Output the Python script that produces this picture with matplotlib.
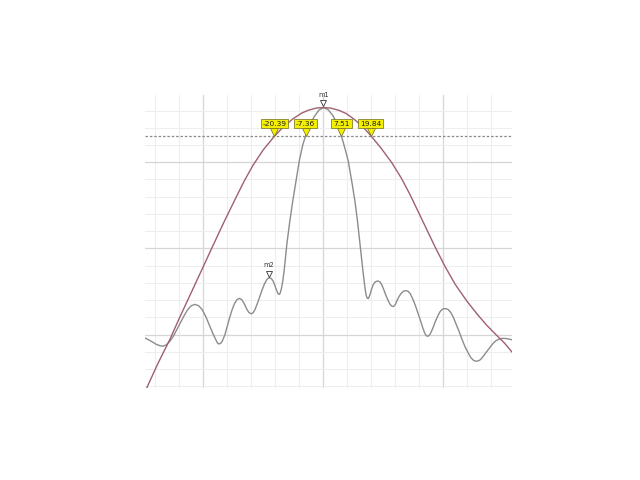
import matplotlib
matplotlib.use('Agg')
import matplotlib.pyplot as plt
import matplotlib.transforms as mtransforms
from matplotlib.ticker import MultipleLocator

# Diagrama de radiacion: haz ancho (rojo) y haz estrecho (gris), en grados / dB
ancho_x = [-73.6, -69, -64, -60, -55.5, -51, -46.7, -41.5, -36.4, -33, -29.3, -25,
           -20.25, -16.5, -12.6, -9, -6.4, -3, 0, 3, 6.5, 9.5, 12.5, 16, 19.84,
           24, 28.5, 32.5, 36.1, 41, 46.5, 50.7, 55, 59.75, 64, 68, 72.25, 75.5, 78.5]
ancho_y = [-36.2, -33.4, -30.6, -28.1, -25.4, -22.7, -20.1, -17.0, -14.1, -12.2, -10.35, -8.55,
           -6.94, -5.85, -4.95, -4.3, -3.98, -3.72, -3.65, -3.72, -3.98, -4.35, -4.95, -5.75, -6.94,
           -8.35, -10.05, -11.85, -13.75, -16.6, -19.8, -22.1, -24.2, -26.1, -27.6, -28.9, -30.1, -31.0, -32.0]

estrecho_x = [-74.3, -72.5, -71, -69.5, -68, -66.8, -65.5, -64, -62.5, -61, -59.5, -58, -56.5, -55,
              -53.5, -52, -50.5, -49, -47.5, -46, -45, -44.2, -43.5, -42.7, -42, -41, -40, -39,
              -38, -37, -36, -35, -34, -33, -32, -31, -30, -29.2, -28.5, -27.5, -26.5, -25.5,
              -24.5, -23.5, -22.6, -21.7, -21, -20.2, -19.5, -18.9, -18.5, -18.0, -17.5, -16.9,
              -16.3, -15.2, -14.0, -12.8, -11.5, -10.0, -8.5, -7.36, -5.5, -4, -2, 0, 2, 4, 6,
              7.51, 9, 10.4, 12, 13.2, 14.3, 15.3, 16.4, 17.3, 17.8, 18.3, 18.8, 19.4, 20.0,
              20.8, 21.6, 22.3, 22.9, 23.6, 24.3, 25.2, 26, 26.9, 27.7, 28.5, 29.2, 30.0,
              30.8, 31.6, 32.5, 33.5, 34.5, 35.4, 36.3, 37.3, 38.3, 39.4, 40.5, 41.4, 42.2,
              42.8, 43.3, 43.9, 44.5, 45.5, 46.5, 47.5, 48.5, 49.4, 50.2, 51.1, 52, 53, 54,
              55.2, 56.5, 57.7, 59, 60.3, 61.5, 62.6, 63.6, 64.6, 65.5, 66.7, 68, 69.4, 70.8,
              72, 73, 74.3, 75.7, 77, 78.5]
estrecho_y = [-30.4, -30.65, -30.9, -31.15, -31.3, -31.35, -31.2, -30.8, -30.2, -29.4, -28.6, -27.8,
              -27.1, -26.65, -26.5, -26.65, -27.1, -27.9, -28.9, -29.9, -30.5, -30.95, -31.1, -31.0,
              -30.7, -30.0, -29.0, -28.0, -27.1, -26.4, -25.95, -25.8, -25.95, -26.4, -27.0, -27.45,
              -27.6, -27.45, -27.1, -26.4, -25.6, -24.8, -24.1, -23.6, -23.4, -23.5, -23.75, -24.3,
              -24.85, -25.25, -25.35, -25.2, -24.7, -23.8, -22.5, -19.5, -16.9, -14.6, -12.4, -9.8,
              -7.9, -6.94, -5.6, -4.8, -4.0, -3.65, -3.9, -4.6, -5.7, -6.94, -8.4, -9.9, -12.5,
              -14.6, -17.0, -19.6, -22.4, -24.5, -25.4, -25.8, -25.8, -25.4, -24.8, -24.2, -23.9,
              -23.8, -23.8, -23.9, -24.2, -24.8, -25.4, -26.0, -26.45, -26.7, -26.75, -26.5,
              -26.0, -25.55, -25.2, -24.95, -24.9, -25.0, -25.3, -25.9, -26.6, -27.5, -28.4,
              -29.2, -29.8, -30.1, -30.2, -30.15, -29.95, -29.35, -28.6, -27.95, -27.4, -27.1,
              -27.0, -27.0, -27.1, -27.4, -27.9, -28.7, -29.6, -30.5, -31.4, -32.1, -32.7, -33.0,
              -33.1, -33.05, -32.9, -32.5, -32.0, -31.5, -31.0, -30.7, -30.55, -30.45, -30.45,
              -30.5, -30.6]

nivel_3db = -6.94
marcas_x = [-20.39, -7.36, 7.51, 19.84]
marcas_txt = ['-20.39', '-7.36', '7.51', '19.84']
m1 = (0, -3.65)
m2 = (-22.6, -23.4)

fig = plt.figure(figsize=(6.4, 4.8), dpi=100)
ax = fig.add_axes([0.2266, 0.1917, 0.5734, 0.6104])

ax.xaxis.set_major_locator(MultipleLocator(50))
ax.xaxis.set_minor_locator(MultipleLocator(10))
ax.yaxis.set_major_locator(MultipleLocator(10))
ax.yaxis.set_minor_locator(MultipleLocator(2))
ax.grid(True, which='major', color='#d6d6d6', lw=0.9)
ax.grid(True, which='minor', color='#eeeeee', lw=0.8)
ax.set_axisbelow(True)
ax.tick_params(which='both', length=0, labelbottom=False, labelleft=False)
for s in ax.spines.values():
    s.set_visible(False)

ax.axhline(nivel_3db, color='#8a8a8a', lw=0.9, ls=(0, (2, 1.5)), zorder=1)
ax.plot(estrecho_x, estrecho_y, color='#8c8c8c', lw=1.0, zorder=2)
ax.plot(ancho_x, ancho_y, color='#a0606e', lw=1.0, zorder=3)

# marcadores amarillos sobre el nivel de -3 dB
tri = mtransforms.offset_copy(ax.transData, fig=fig, x=0, y=2.9, units='points')
for mx, txt in zip(marcas_x, marcas_txt):
    ax.plot(mx, nivel_3db, marker='v', ms=6, mfc='#f4ee00', mec='#6e6a20', mew=0.5,
            transform=tri, zorder=5)
    ax.annotate(txt, xy=(mx, nivel_3db), xytext=(0, 8.8), textcoords='offset points',
                ha='center', va='center', fontsize=5.4, color='#222222', zorder=6,
                bbox=dict(boxstyle='square,pad=0.25', fc='#f4ee00', ec='#6e6a20', lw=0.5))

# marcadores m1 y m2
tri2 = mtransforms.offset_copy(ax.transData, fig=fig, x=0, y=3.0, units='points')
for (px, py), nombre in [(m1, 'm1'), (m2, 'm2')]:
    ax.plot(px, py, marker='v', ms=4.5, mfc='white', mec='#333333', mew=0.6,
            transform=tri2, zorder=6)
    ax.annotate(nombre, xy=(px, py), xytext=(0, 9), textcoords='offset points',
                ha='center', va='center', fontsize=4.8, color='#333333', zorder=6)

ax.set_xlim(-74.3, 78.6)
ax.set_ylim(-36.2, -2.2)

plt.savefig('out.png', dpi=100, facecolor='white')
